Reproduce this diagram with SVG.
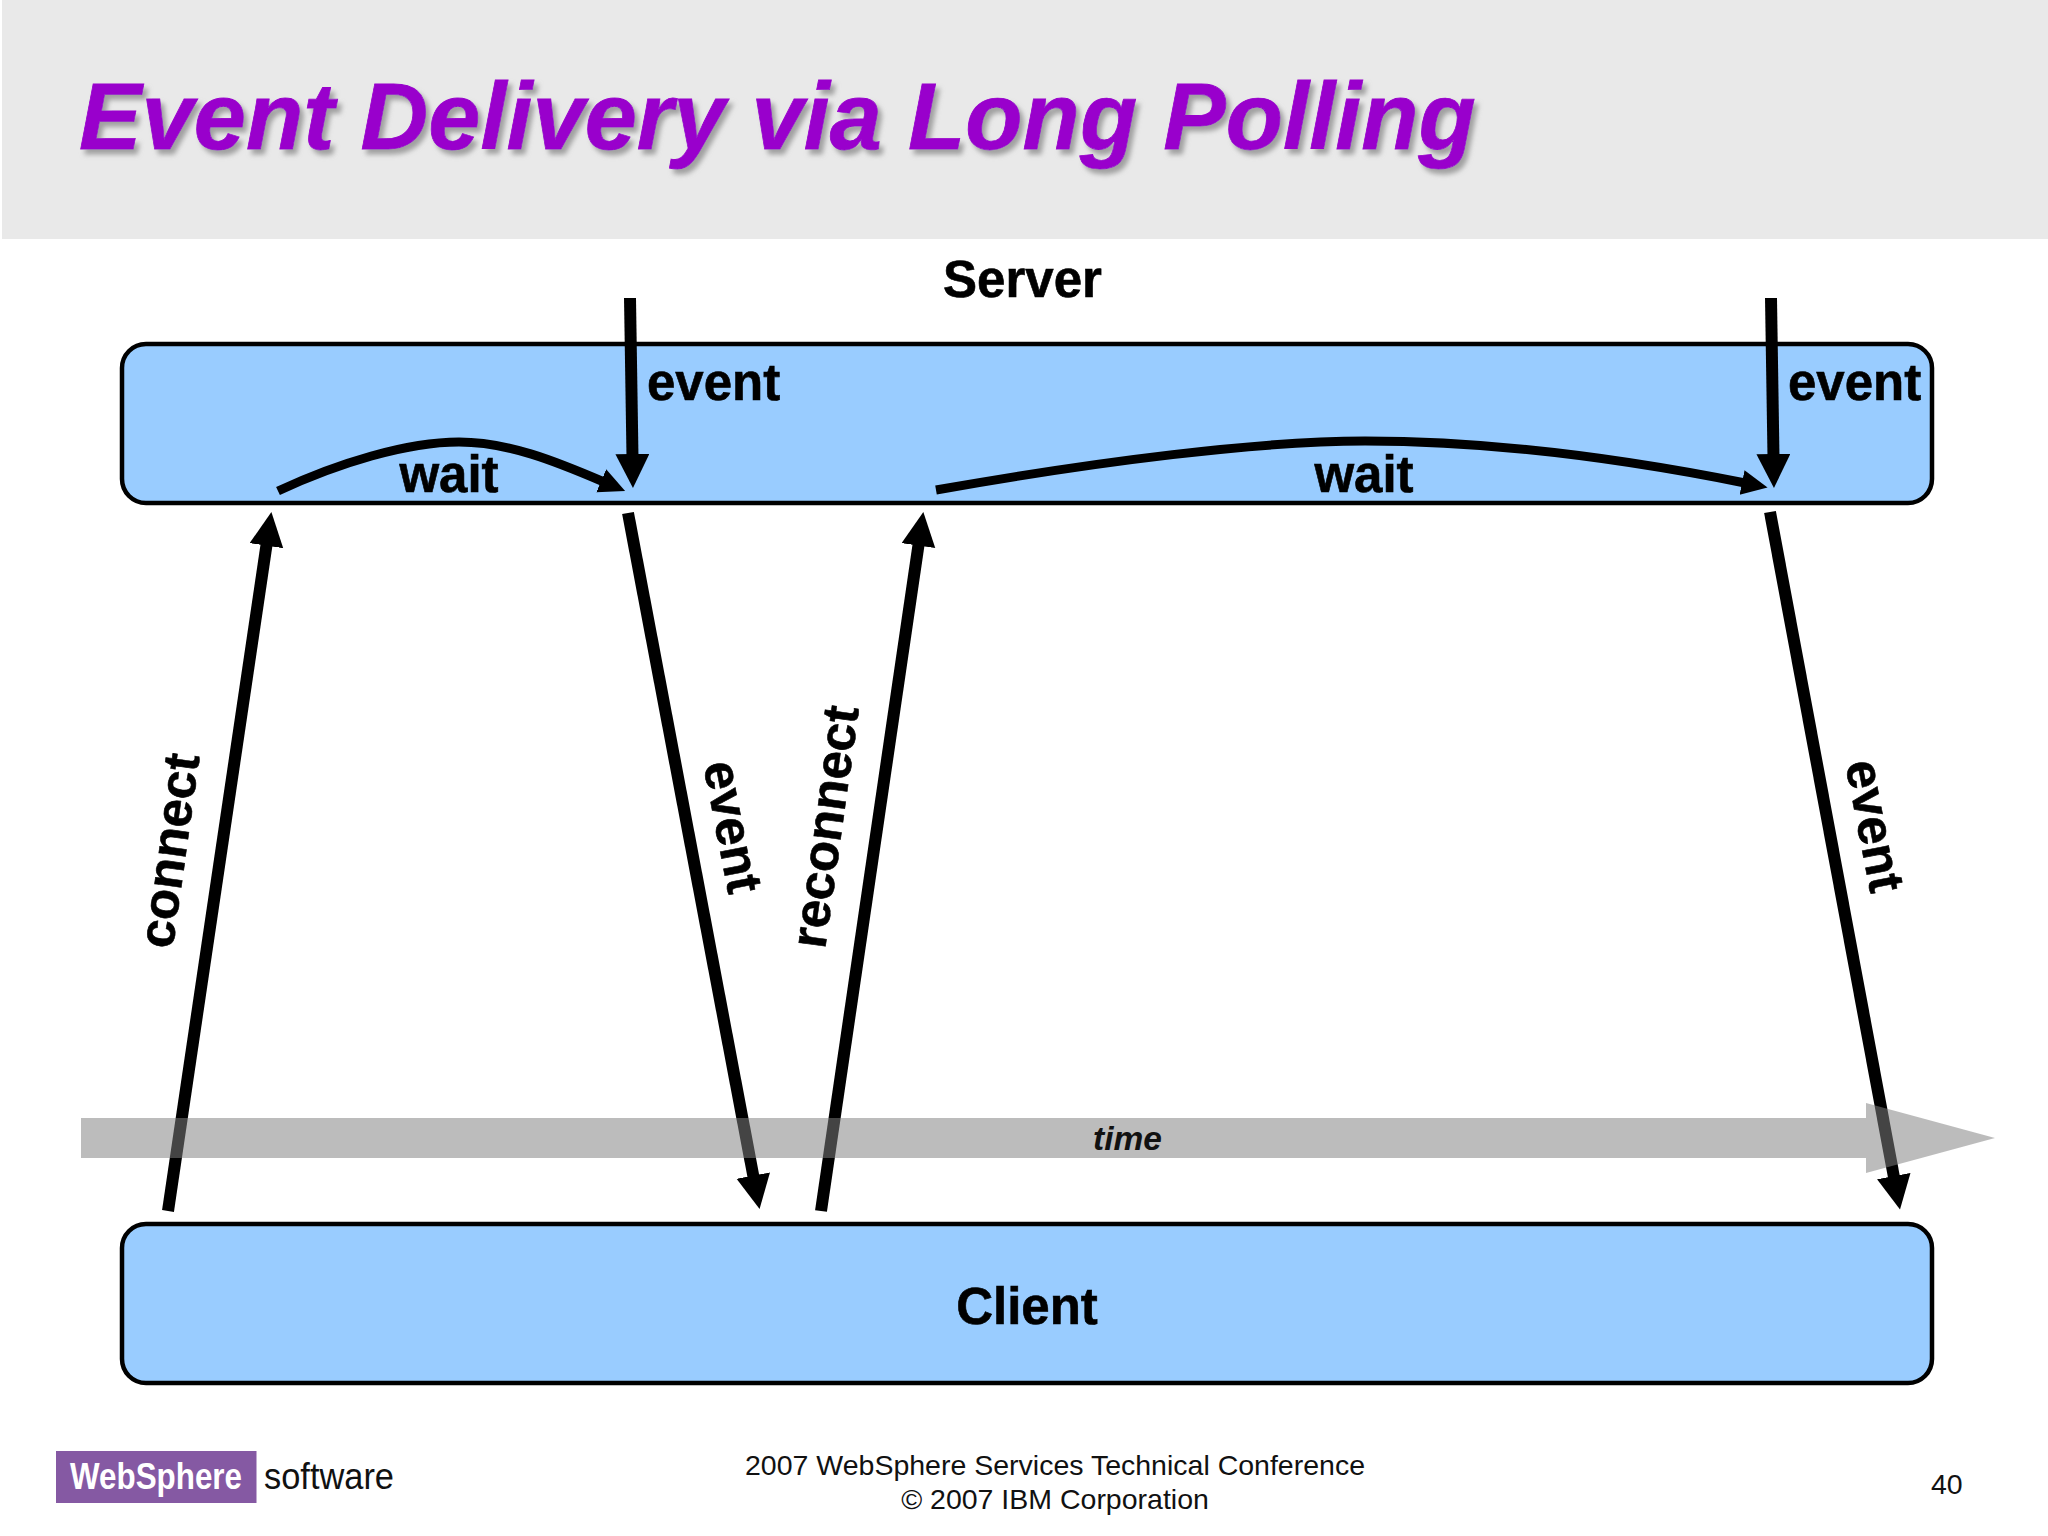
<svg xmlns="http://www.w3.org/2000/svg" width="2048" height="1536" viewBox="0 0 2048 1536">
<style>
.box{fill:#99ccff;stroke:#000;stroke-width:4.5}
.lbl{font-family:"Liberation Sans",Arial,sans-serif;font-weight:bold;font-size:51px;fill:#000;stroke:#000;stroke-width:0.6}
.mid{text-anchor:middle}
.ln{fill:none;stroke:#000;stroke-width:12}
.cv{fill:none;stroke:#000;stroke-width:9}
.ft{font-family:"Liberation Sans",Arial,sans-serif;font-size:28.500px;fill:#111}
</style>
<defs>
<marker id="big" markerUnits="userSpaceOnUse" markerWidth="40" markerHeight="40" refX="4" refY="17" orient="auto"><path d="M0 0L34 17L0 34Z" fill="#000"/></marker>
<marker id="small" markerUnits="userSpaceOnUse" markerWidth="30" markerHeight="30" refX="3" refY="12.5" orient="auto"><path d="M0 0L26 12.5L0 25Z" fill="#000"/></marker>
<filter id="sh" x="-5%" y="-20%" width="110%" height="150%"><feDropShadow dx="4" dy="5" stdDeviation="2.5" flood-color="#888" flood-opacity="0.75"/></filter>
</defs>
<rect width="2048" height="1536" fill="#fff"/>
<rect id="header" x="2" y="0" width="2046" height="239" fill="#e9e9e9"/>
<text id="title" x="79" y="149" font-family="Liberation Sans, Arial, sans-serif" font-weight="bold" font-style="italic" font-size="93.800" fill="#9900cc" stroke="#9900cc" stroke-width="0.8" filter="url(#sh)">Event Delivery via Long Polling</text>
<g id="server"><rect class="box" x="122" y="344" width="1810" height="159" rx="24"/><text class="lbl mid" x="1022.500" y="297">Server</text></g>
<g id="client"><rect class="box" x="122" y="1224" width="1810" height="159" rx="24"/><text class="lbl mid" x="1027" y="1324">Client</text></g>
<g id="connectors">
<line class="ln" x1="168" y1="1211" x2="267" y2="541.7" marker-end="url(#big)"/>
<line class="ln" x1="628" y1="513" x2="754" y2="1179.5" marker-end="url(#big)"/>
<line class="ln" x1="821" y1="1211" x2="919" y2="541.7" marker-end="url(#big)"/>
<line class="ln" x1="1770" y1="512" x2="1894.5" y2="1180" marker-end="url(#big)"/>
<line class="ln" x1="630" y1="298" x2="632.5" y2="458" marker-end="url(#big)"/>
<line class="ln" x1="1771" y1="298" x2="1773.5" y2="458" marker-end="url(#big)"/>
<path class="cv" d="M278 491C338 463 407 442 459 442C508 442 555 461 604 482" marker-end="url(#small)"/>
<path class="cv" d="M936 490C1100 461 1260 441 1365 441C1500 441 1640 462 1745 483" marker-end="url(#small)"/>
</g>
<g id="connector-labels">
<text class="lbl" x="647" y="400">event</text>
<text class="lbl" x="1788" y="400">event</text>
<text class="lbl mid" x="449" y="492">wait</text>
<text class="lbl mid" x="1364" y="492">wait</text>
<text class="lbl mid" transform="translate(186 853) rotate(-82)">connect</text>
<text class="lbl mid" transform="translate(842 829) rotate(-82)">reconnect</text>
<text class="lbl mid" transform="translate(716 830) rotate(79)">event</text>
<text class="lbl mid" transform="translate(1858 829) rotate(79)">event</text>
</g>
<g id="time">
<path d="M81 1118H1866V1103L1995 1138L1866 1173V1158H81Z" fill="#808080" fill-opacity="0.53"/>
<text x="1127.500" y="1150" text-anchor="middle" font-family="Liberation Sans, Arial, sans-serif" font-weight="bold" font-style="italic" font-size="33.500" fill="#111">time</text>
</g>
<g id="logo">
<rect x="56" y="1451" width="200.500" height="52" fill="#8559a3"/>
<text x="70" y="1489" font-family="Liberation Sans, Arial, sans-serif" font-weight="bold" font-size="36" fill="#fff" textLength="172" lengthAdjust="spacingAndGlyphs">WebSphere</text>
<text x="264" y="1489" font-family="Liberation Sans, Arial, sans-serif" font-size="36" fill="#111" textLength="130" lengthAdjust="spacingAndGlyphs">software</text>
</g>
<g id="footer">
<text class="ft mid" x="1055" y="1474.500">2007 WebSphere Services Technical Conference</text>
<text class="ft mid" x="1055" y="1508.500">© 2007 IBM Corporation</text>
<text class="ft" x="1931" y="1494">40</text>
</g>
</svg>
